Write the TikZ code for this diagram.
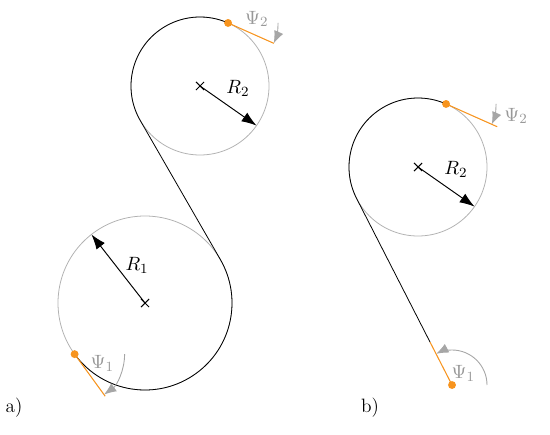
\documentclass[tikz,border=0pt]{standalone}
\usepackage{tikz}
\usetikzlibrary{calc,arrows.meta,shapes.misc}
\definecolor{dotorange}{RGB}{247,148,30}
\begin{document}
\begin{tikzpicture}[x=0.02cm,y=0.02cm,
  every node/.style={font=\fontsize{11}{13}\selectfont},
  circ/.style={gray!60,line width=0.45pt},
  belt/.style={black,line width=0.45pt},
  tang/.style={dotorange,line width=0.6pt},
  rad/.style={-{Latex[length=8.5pt,width=6pt]},line width=0.55pt},
  ang/.style={gray!70,line width=0.5pt,-{Latex[length=7pt,width=5.5pt]}},
  spot/.style={circle,fill=dotorange,inner sep=0pt,minimum size=4.5pt},
  hub/.style={draw,cross out,inner sep=0pt,minimum size=4pt,line width=0.6pt},
  psi/.style={text=gray!80}]
\useasboundingbox (0,0) rectangle (550,-435);
\coordinate (c1) at (145,-303);
\coordinate (c2) at (200,-86);
\coordinate (c3) at (418,-167);
\coordinate (p1) at ($(c1)+(216:87)$);
\coordinate (t2) at ($(c2)+(209.94:69)$);
\coordinate (p2) at ($(c2)+(66:69)$);
\coordinate (p3) at (452,-385);
\coordinate (t3) at ($(c3)+(-152.9:69)$);
\coordinate (p4) at ($(c3)+(66:69)$);
\coordinate (e1) at ($(p1)+(306:52)$);
\coordinate (e2) at ($(p2)+(-24:50)$);
\coordinate (e3) at ($(p3)+(117.1:48)$);
\coordinate (e4) at ($(p4)+(-24:56)$);
\coordinate (q1) at ($(c1)+(128:87)$);
\coordinate (q2) at ($(c2)+(-35:69)$);
\coordinate (q3) at ($(c3)+(-35:69)$);
\draw[circ] (c1) circle[radius=87];
\draw[circ] (c2) circle[radius=69];
\draw[circ] (c3) circle[radius=69];
\draw[belt] (p1) arc[start angle=216,end angle=389.94,radius=87] -- (t2)
            arc[start angle=209.94,end angle=66,radius=69];
\draw[belt] (e3) -- (t3) arc[start angle=207.1,end angle=66,radius=69];
\draw[tang] (p1) -- (e1);
\draw[tang] (p2) -- (e2);
\draw[tang] (p3) -- (e3);
\draw[tang] (p4) -- (e4);
\draw[ang] ($(p1)+(0:50)$) arc[start angle=0,end angle=-54,radius=50];
\draw[ang] ($(p2)+(0:50)$) arc[start angle=0,end angle=-24,radius=50];
\draw[ang] ($(p3)+(0:35)$) arc[start angle=0,end angle=117.1,radius=35];
\draw[ang] ($(p4)+(0:50)$) arc[start angle=0,end angle=-24,radius=50];
\node[spot] (d1) at (p1) {};
\node[spot] (d2) at (p2) {};
\node[spot] (d3) at (p3) {};
\node[spot] (d4) at (p4) {};
\node[hub]  (x1) at (c1) {};
\node[hub]  (x2) at (c2) {};
\node[hub]  (x3) at (c3) {};
\draw[rad] (c1) -- (q1);
\draw[rad] (c2) -- (q2);
\draw[rad] (c3) -- (q3);
\node      (r1) at ($(c1)+(102:38)$) {$R_1$};
\node      (r2) at ($(c2)+(-3:38)$)  {$R_2$};
\node      (r3) at ($(c3)+(-3:38)$)  {$R_2$};
\node[psi] (s1) at ($(p1)+(-18:29)$) {$\Psi_1$};
\node[psi] (s2) at ($(p2)+(8:29)$)   {$\Psi_2$};
\node[psi] (s3) at ($(p3)+(45:16)$)  {$\Psi_1$};
\node[psi] (s4) at ($(p4)+(-9.7:71)$) {$\Psi_2$};
\node      (la) at (14,-408)  {a)};
\node      (lb) at (370,-408) {b)};
\end{tikzpicture}
\end{document}
